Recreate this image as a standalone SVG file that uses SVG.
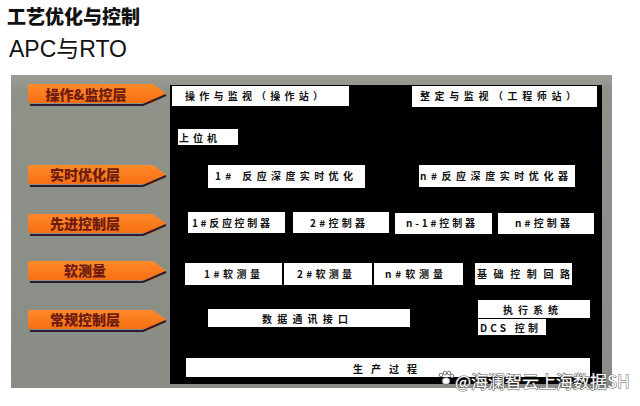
<svg xmlns="http://www.w3.org/2000/svg" width="640" height="406" viewBox="0 0 640 406">
<defs>
<style>
.ttl{font-family:"Noto Sans CJK SC","Liberation Sans",sans-serif;font-weight:900;font-size:19px;fill:#111}
.sub{font-family:"Liberation Sans","Noto Sans CJK SC",sans-serif;font-size:23px;fill:#111}
.box{fill:#fff}
.bt{font-family:"Noto Sans CJK SC",sans-serif;font-weight:bold;font-size:10px;fill:#111}
.arr{fill:url(#og)}
.sh{fill:none;stroke:#2b1c33;stroke-width:2}
.al{font-family:"Noto Sans CJK SC",sans-serif;font-weight:900;font-size:14px;fill:#6e1c10;text-anchor:middle}
.wm{font-family:"Noto Sans CJK SC",sans-serif;font-size:17px;fill:#fff;stroke:#555;stroke-width:1;paint-order:stroke}
</style>
<linearGradient id="og" x1="0" y1="0" x2="0" y2="1">
<stop offset="0" stop-color="#ff8a2a"/>
<stop offset="1" stop-color="#f56f12"/>
</linearGradient>
<linearGradient id="pg" x1="0" y1="0" x2="0" y2="1">
<stop offset="0" stop-color="#9c9e95"/>
<stop offset="0.05" stop-color="#8f9289"/>
<stop offset="1" stop-color="#8a8d86"/>
</linearGradient>
<g id="arrow">
<path class="arr" d="M30,0 H153 L166,9.5 L153,19 H30 Q28,19 28,17 V2 Q28,0 30,0 Z"/>
<path class="sh" d="M30,21 H143 L166,11"/>
</g>
</defs>
<rect width="640" height="406" fill="#fff"/>
<text class="ttl" x="7" y="24">工艺优化与控制</text>
<text class="sub" x="9" y="57">APC与RTO</text>
<rect x="11" y="75" width="601" height="313" fill="url(#pg)"/>
<rect x="170" y="85" width="432" height="299" fill="#000"/>
<g id="layers">
<g id="layer-ops"><use href="#arrow" y="84"/><text class="al" x="86" y="100">操作&amp;监控层</text></g>
<g id="layer-rto"><use href="#arrow" y="165"/><text class="al" x="85" y="180">实时优化层</text></g>
<g id="layer-apc"><use href="#arrow" y="214"/><text class="al" x="85" y="229">先进控制层</text></g>
<g id="layer-soft"><use href="#arrow" y="261"/><text class="al" x="85" y="276">软测量</text></g>
<g id="layer-dcs"><use href="#arrow" y="310"/><text class="al" x="85" y="325">常规控制层</text></g>
</g>
<g id="connectors"></g>
<g id="n-ops"><rect class="box" x="172" y="86" width="177" height="20"/><text class="bt" x="185" y="100" textLength="138" lengthAdjust="spacing">操作与监视（操作站）</text></g>
<g id="n-eng"><rect class="box" x="412" y="86" width="185" height="21"/><text class="bt" x="420" y="100" textLength="156" lengthAdjust="spacing">整定与监视（工程师站）</text></g>
<g id="n-host"><rect class="box" x="178" y="129" width="60" height="16"/><text class="bt" x="179" y="142" textLength="38" lengthAdjust="spacing">上位机</text></g>
<g id="n-rto1"><rect class="box" x="208" y="165" width="157" height="23"/><text class="bt" x="215" y="180" textLength="138" lengthAdjust="spacing">1# 反应深度实时优化</text></g>
<g id="n-rton"><rect class="box" x="419" y="165" width="156" height="22"/><text class="bt" x="420" y="180" textLength="148" lengthAdjust="spacing">n#反应深度实时优化器</text></g>
<g id="n-c1"><rect class="box" x="188" y="212" width="97" height="21"/><text class="bt" x="192" y="227" textLength="78" lengthAdjust="spacing">1#反应控制器</text></g>
<g id="n-c2"><rect class="box" x="293" y="212" width="96" height="21"/><text class="bt" x="310" y="227" textLength="55" lengthAdjust="spacing">2#控制器</text></g>
<g id="n-cn1"><rect class="box" x="395" y="213" width="97" height="21"/><text class="bt" x="406" y="227" textLength="69" lengthAdjust="spacing">n-1#控制器</text></g>
<g id="n-cn"><rect class="box" x="498" y="213" width="96" height="21"/><text class="bt" x="515" y="227" textLength="55" lengthAdjust="spacing">n#控制器</text></g>
<g id="n-s1"><rect class="box" x="185" y="263" width="97" height="22"/><text class="bt" x="204" y="278" textLength="56" lengthAdjust="spacing">1#软测量</text></g>
<g id="n-s2"><rect class="box" x="284" y="263" width="88" height="22"/><text class="bt" x="297" y="278" textLength="55" lengthAdjust="spacing">2#软测量</text></g>
<g id="n-sn"><rect class="box" x="374" y="263" width="89" height="22"/><text class="bt" x="385" y="278" textLength="58" lengthAdjust="spacing">n#软测量</text></g>
<g id="n-base"><rect class="box" x="475" y="263" width="97" height="22"/><text class="bt" x="477" y="278" textLength="93" lengthAdjust="spacing">基础控制回路</text></g>
<g id="n-exec"><rect class="box" x="478" y="300" width="112" height="18"/><text class="bt" x="503" y="314" textLength="55" lengthAdjust="spacing">执行系统</text></g>
<g id="n-dcs"><rect class="box" x="478" y="319" width="68" height="16"/><text class="bt" x="480" y="332" textLength="58" lengthAdjust="spacing">DCS 控制</text></g>
<g id="n-comm"><rect class="box" x="208" y="309" width="202" height="18"/><text class="bt" x="262" y="323" textLength="86" lengthAdjust="spacing">数据通讯接口</text></g>
<g id="n-proc"><rect class="box" x="186" y="358" width="404" height="19"/><text class="bt" x="353" y="373" font-size="12" textLength="64" lengthAdjust="spacing">生产过程</text></g>
<g id="watermark">
<g fill="#fff" stroke="#555" stroke-width="0.8">
<ellipse cx="446" cy="381" rx="4" ry="3.5"/>
<circle cx="441" cy="375" r="1.8"/><circle cx="445" cy="373" r="1.8"/><circle cx="449" cy="373" r="1.8"/><circle cx="452" cy="376" r="1.8"/>
</g>
<text class="wm" x="455" y="388">@海澜智云上海数据SH</text>
</g>
</svg>
